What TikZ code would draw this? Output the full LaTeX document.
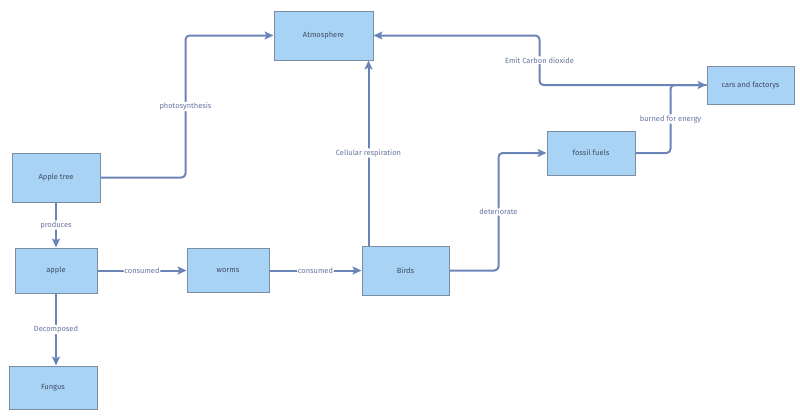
\documentclass[tikz,border=0pt]{standalone}
\usepackage{fontspec}
\setmainfont{Fira Sans}
\usepackage{xcolor}
\usetikzlibrary{arrows.meta}

\definecolor{boxfill}{HTML}{A9D3F5}
\definecolor{boxline}{HTML}{7B8DA3}
\definecolor{flowline}{HTML}{6A84B8}
\definecolor{boxtext}{HTML}{3F4D63}
\definecolor{labeltext}{HTML}{6677A0}

\begin{document}
\begin{tikzpicture}[x=1pt,y=-1pt,
    box/.style={draw=boxline,line width=1pt,fill=boxfill,text=boxtext,
        font=\fontsize{7.5}{9}\selectfont,inner sep=0pt},
    flow/.style={draw=flowline,line width=2pt,rounded corners=4pt,
        -{Stealth[length=9pt,width=8pt,inset=2pt]}},
    lbl/.style={fill=white,text=labeltext,inner sep=1pt,
        font=\fontsize{7.5}{9}\selectfont}]
    \useasboundingbox (0,0) rectangle (800,416);

    % Draw the boxes
    \node[box,minimum width=99pt,minimum height=49pt] (atm) at (323.5,35.5) {Atmosphere};
    \node[box,minimum width=87pt,minimum height=38pt] (cars) at (750.5,85) {cars and factorys};
    \node[box,minimum width=88pt,minimum height=44pt] (fossil) at (591,153) {fossil fuels};
    \node[box,minimum width=88pt,minimum height=49pt] (tree) at (56,177.5) {Apple tree};
    \node[box,minimum width=82pt,minimum height=45pt] (apple) at (56,270.5) {apple};
    \node[box,minimum width=82pt,minimum height=44pt] (worms) at (228,270.5) {worms};
    \node[box,minimum width=87pt,minimum height=49pt] (birds) at (405.5,270.5) {Birds};
    \node[box,minimum width=88pt,minimum height=43pt] (fungus) at (53,387.5) {Fungus};

    % Draw arrows
    \draw[flow] (tree.east) -| node[lbl,pos=0.75] {photosynthesis} ([xshift=-88pt]atm.west) -- (atm.west);
    \draw[flow] (cars.west) -| node[lbl,pos=0.75] {Emit Carbon dioxide} ([xshift=166pt]atm.east) -- (atm.east);
    \draw[flow] (fossil.east) -- ++(35,0) |- node[lbl,pos=0.25] {burned for energy} (cars.west);
    \draw[flow] ([xshift=-5pt]atm.south east |- birds.north) -- node[lbl] {Cellular respiration} ([xshift=-5pt]atm.south east);
    \draw[flow] (birds.east) -- ++(49,0) |- node[lbl,pos=0.25] {deteriorate} (fossil.west);
    \draw[flow] (tree.south) -- node[lbl] {produces} (apple.north);
    \draw[flow] (apple.east) -- node[lbl] {consumed} (worms.west);
    \draw[flow] (worms.east) -- node[lbl] {consumed} (birds.west);
    \draw[flow] (apple.south) -- node[lbl] {Decomposed} (apple.south |- fungus.north);
\end{tikzpicture}
\end{document}
